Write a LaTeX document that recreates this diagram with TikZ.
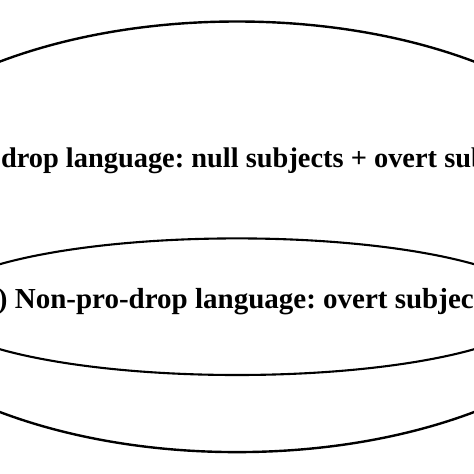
\documentclass[tikz,border=0pt]{standalone}
\usepackage{fontspec}
\setmainfont{Liberation Serif}
\usepackage{tikz}
\frenchspacing

\begin{document}
\begin{tikzpicture}[x=1pt, y=-1pt]
        \pgfmathsetmacro{\breite}{474}
        \useasboundingbox (0, 0) rectangle (\breite, \breite);
        \clip (0, 0) rectangle (\breite, \breite);

        \coordinate (M) at (237, 236.8);
        \draw[line width=2.4pt] (M) ellipse [x radius=408, y radius=215.3];
        \node[anchor=base west, inner sep=0pt, font=\fontsize{28.4}{34}\selectfont\bfseries] (prodrop) at (-92.5, 167) {(a) Pro-drop language: null subjects + overt subjects};

        \coordinate (N) at (237, 306.7);
        \draw[line width=2.1pt] (N) ellipse [x radius=303, y radius=68.3];
        \node[anchor=base west, inner sep=0pt, font=\fontsize{29}{35}\selectfont\bfseries] (nonprodrop) at (-28, 308) {(b) Non-pro-drop language: overt subjects};

    \end{tikzpicture}
\end{document}
